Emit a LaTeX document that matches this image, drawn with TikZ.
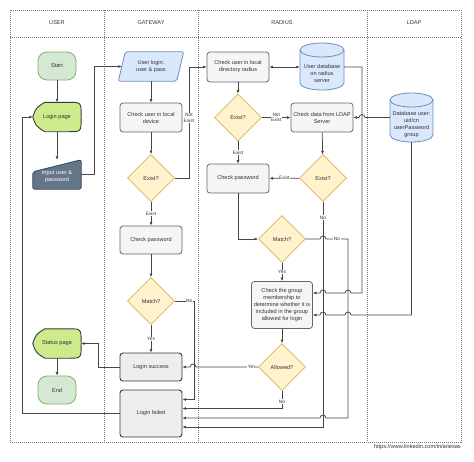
\documentclass[tikz,border=0pt]{standalone}
\usepackage{fontspec}
\setmainfont{Liberation Sans}
\usetikzlibrary{shapes.geometric,arrows.meta,calc,backgrounds}
\definecolor{laneGray}{RGB}{120,120,120}
\definecolor{lineGray}{RGB}{70,70,70}
\definecolor{txtGray}{RGB}{51,51,51}
\definecolor{greenFill}{RGB}{213,232,212}
\definecolor{greenLine}{RGB}{130,179,102}
\definecolor{limeFill}{RGB}{205,235,139}
\definecolor{darkLine}{RGB}{54,57,61}
\definecolor{slateFill}{RGB}{100,118,135}
\definecolor{slateLine}{RGB}{49,67,84}
\definecolor{blueFill}{RGB}{218,232,252}
\definecolor{blueLine}{RGB}{108,142,191}
\definecolor{boxFill}{RGB}{245,245,245}
\definecolor{boxLine}{RGB}{102,102,102}
\definecolor{resFill}{RGB}{238,238,238}
\definecolor{yellowFill}{RGB}{255,242,204}
\definecolor{yellowLine}{RGB}{214,182,86}

\tikzset{
  lane/.style={draw=laneGray, line width=0.5pt, dash pattern=on 1pt off 1pt},
  lanetitle/.style={font=\fontsize{5.6}{7}\selectfont, text=txtGray},
  basetext/.style={font=\fontsize{5.6}{7}\selectfont, text=txtGray, align=center, inner sep=1pt},
  terminal/.style={basetext, draw=greenLine, fill=greenFill, rounded corners=9pt, minimum width=38pt, minimum height=28pt, line width=0.8pt},
  pagebox/.style={basetext, minimum width=48pt, minimum height=29pt},
  pageshape/.style={draw=darkLine, fill=limeFill, line width=0.9pt},
  inputshape/.style={draw=slateLine, fill=slateFill, line width=0.8pt, rounded corners=2pt},
  procbox/.style={basetext, draw=boxLine, fill=boxFill, rounded corners=3pt, minimum width=62pt, minimum height=29pt, line width=0.8pt},
  resultbox/.style={procbox, draw=darkLine, fill=resFill, line width=0.9pt},
  decision/.style={basetext, diamond, draw=yellowLine, fill=yellowFill, minimum width=47pt, minimum height=47pt, inner sep=0pt, line width=0.8pt},
  dbshape/.style={draw=blueLine, fill=blueFill, line width=0.8pt},
  flow/.style={draw=lineGray, line width=0.75pt, -{Latex[length=3.5pt,width=3pt]}},
  lbl/.style={fill=white, inner sep=0.5pt, align=center, font=\fontsize{4.8}{5.4}\selectfont, text=txtGray},
}

\newcommand{\pageoutline}[1]{%
  \filldraw[pageshape] (#1.west) .. controls ($(#1.west)+(3,-9)$) .. ($(#1.north west)+(12,0)$) -- ($(#1.north east)+(-12,0)$)
    .. controls (#1.north east) .. (#1.east) .. controls (#1.south east) .. ($(#1.south east)+(-12,0)$)
    -- ($(#1.south west)+(12,0)$) .. controls ($(#1.west)+(3,9)$) .. (#1.west) -- cycle;}
\newcommand{\dbdrum}[4]{%
  \filldraw[dbshape] (#1-#4,#2+7) arc[start angle=180,end angle=0,x radius=#4pt,y radius=7pt]
    -- (#1+#4,#3-7) arc[start angle=0,end angle=-180,x radius=#4pt,y radius=7pt] -- cycle;
  \draw[dbshape, fill=none] (#1-#4,#2+7) arc[start angle=180,end angle=360,x radius=#4pt,y radius=7pt];}

\begin{document}
\begin{tikzpicture}[x=1pt,y=-1pt]
  \useasboundingbox (0,0) rectangle (474,461);

  \draw[lane] (10,10) rectangle (461,442);
  \draw[lane] (10,37) -- (461,37);
  \foreach \x in {104,198,367} \draw[lane] (\x,10) -- (\x,442);
  \node[lanetitle] (tuser) at (57,23) {USER};
  \node[lanetitle] (tgate) at (151,23) {GATEWAY};
  \node[lanetitle] (trad) at (282,23) {RADIUS};
  \node[lanetitle] (tldap) at (414,23) {LDAP};
  \node[lanetitle, anchor=east, inner sep=0pt] (credit) at (461,447) {https://www.linkedin.com/in/ariesas};

  \node[terminal] (start) at (57,66) {Start};
  \node[pagebox] (login) at (57,117) {Login page};
  \node[basetext, text=white, minimum width=48pt, minimum height=24pt] (input) at (57,177) {Input user \&\\password};
  \node[pagebox] (status) at (57,343.5) {Status page};
  \node[terminal] (end) at (57,390) {End};

  \node[basetext, minimum width=58pt, minimum height=29pt] (userlogin) at (151,66.5) {User login:\\user \& pass};
  \node[procbox] (checkdev) at (151,117.5) {Check user in local\\device};
  \node[decision] (exist1) at (151,178) {Exist?};
  \node[procbox, minimum height=28pt] (checkpw1) at (151,240) {Check password};
  \node[decision] (match1) at (151,301) {Match?};
  \node[resultbox, minimum height=28pt] (success) at (151,367) {Login success};
  \node[resultbox, minimum height=47pt] (failed) at (151,413.5) {Login failed};

  \node[procbox, minimum height=30pt] (checkrad) at (238,67) {Check user in local\\directory radius};
  \node[basetext, minimum width=44pt] (userdb) at (322,73) {User database\\on radius\\server};
  \node[decision] (exist2) at (238,117.5) {Exist?};
  \node[procbox] (checkldap) at (322,117.5) {Check data from LDAP\\Server};
  \node[procbox] (checkpw2) at (238,178.5) {Check password};
  \node[decision] (exist3) at (323,178) {Exist?};
  \node[decision] (match2) at (282,239) {Match?};
  \node[procbox, minimum width=61pt, minimum height=47pt] (group) at (282,305) {Check the group\\membership to\\determine whether it is\\included in the group\\allowed for login};
  \node[decision] (allowed) at (282,367) {Allowed?};

  \node[basetext, minimum width=43pt, minimum height=35pt] (ldapdb) at (411.5,124.5) {Database user:\\uid/cn\\userPassword\\group};

  \begin{scope}[on background layer]
    \pageoutline{login}
    \pageoutline{status}
    \filldraw[inputshape] (input.south west) -- (input.south east) -- ($(input.north east)+(0,-5)$) -- ($(input.north west)+(0,7)$) -- cycle;
    \filldraw[dbshape, rounded corners=2pt] ($(userlogin.south west)+(-3.5,0)$) -- ($(userlogin.north west)+(3.5,0)$) -- ($(userlogin.north east)+(3.5,0)$) -- ($(userlogin.south east)+(-3.5,0)$) -- cycle;
    \dbdrum{322}{43}{90}{22}
    \dbdrum{411.5}{93}{142}{21.5}
  \end{scope}

  \draw[flow] (start) -- (login);
  \draw[flow] (login.south) -- ($(input.north)+(0,-5)$);
  \draw[flow] ($(input.east)+(0,-3)$) -- ++(13,0) |- (userlogin.west);
  \draw[flow] (userlogin) -- (checkdev);
  \draw[flow] (checkdev) -- (exist1);
  \draw[flow] (exist1.east) -- ++(14,0) |- node[lbl, pos=0.27]{Not\\Exist} (checkrad.west);
  \draw[flow] (exist1) -- node[lbl]{Exist} (checkpw1);
  \draw[flow] (checkpw1) -- (match1);
  \draw[flow] (match1) -- node[lbl]{Yes} (success);
  \draw[flow] (match1.east) -- node[lbl, pos=0.75]{No} ++(19,0) |- ($(failed.east)+(0,-14)$);
  \draw[flow] (success.west) -- ++(-21,0) |- (status.east);
  \draw[flow] (status) -- (end);
  \draw[flow] (failed.west) -| ($(login.west)+(-10,0)$) -- (login.west);

  \draw[flow, {Latex[length=3.5pt,width=3pt]}-{Latex[length=3.5pt,width=3pt]}] (checkrad.east) -- (checkrad.east -| userdb.west);
  \draw[flow] (checkrad) -- (exist2);
  \draw[flow] (exist2) -- node[lbl]{Not\\Exist} (checkldap);
  \draw[flow] (exist2) -- node[lbl]{Exist} (checkpw2);
  \draw[flow] (checkldap) -- (exist3);
  \draw[flow] (exist3) -- node[lbl]{Exist} (checkpw2);
  \draw[flow] (checkpw2.south) |- (match2.west);
  \draw[flow] (match2) -- node[lbl]{Yes} (group);
  \draw[flow] (group) -- (allowed);
  \draw[flow] (allowed.west) -- node[lbl, pos=0.1]{Yes} (196,367) arc[start angle=0,end angle=180,radius=3pt] -- (success.east);
  \draw[flow] (allowed.south) |- node[lbl, pos=0.3]{No} ($(failed.east)+(0,-5)$);
  \draw[flow] (match2.east) -- (320,239) arc[start angle=180,end angle=0,radius=3pt] -- node[lbl]{No} (348,239)
    -- (348,418) -- (326,418) arc[start angle=0,end angle=180,radius=3pt] -- ($(failed.east)+(0,4.5)$);
  \draw[flow] (exist3.south) -- node[lbl, pos=0.07]{No} (323,427) -- ($(failed.east)+(0,13.5)$);
  \draw[flow] (checkrad.east -| userdb.east) -| (362,293) -- (351,293) arc[start angle=0,end angle=180,radius=3pt]
    -- (326,293) arc[start angle=0,end angle=180,radius=3pt] -- ($(group.east)+(0,-12)$);
  \draw[flow] (checkldap.east -| ldapdb.west) -- (365,117.5) arc[start angle=0,end angle=180,radius=3pt] -- (checkldap.east);
  \draw[flow] (ldapdb.south) |- (351,315) arc[start angle=0,end angle=180,radius=3pt]
    -- (326,315) arc[start angle=0,end angle=180,radius=3pt] -- ($(group.east)+(0,10)$);
\end{tikzpicture}
\end{document}
